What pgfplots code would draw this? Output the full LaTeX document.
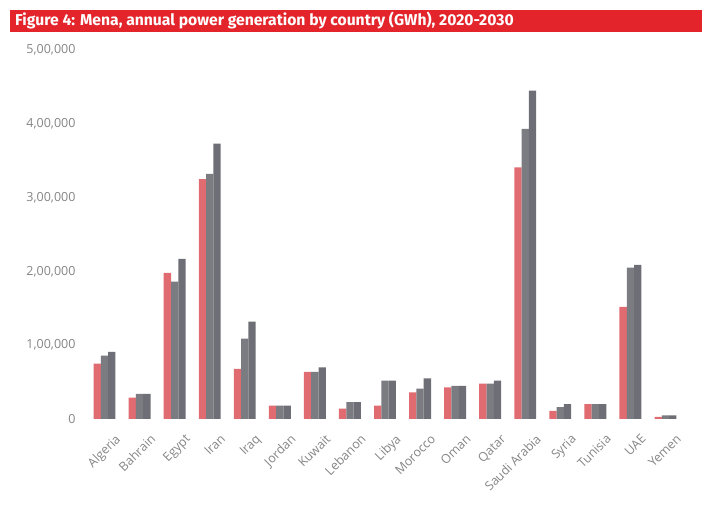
\documentclass[border=0pt]{standalone}
\usepackage{fontspec}
\setmainfont{Open Sans}
\newfontfamily\titlefont{Fira Sans}
\usepackage{pgfplots}
\pgfplotsset{compat=1.18}
\usepackage{pgfplotstable}

\definecolor{banner}{HTML}{E3242B}
\definecolor{r20}{HTML}{E06C72}
\definecolor{g25}{HTML}{7B7B82}
\definecolor{g30}{HTML}{6E6E76}
\definecolor{lbl}{HTML}{858585}

% x = category index, y in GWh
\pgfplotstableread{
x  a      b      c
0  75000  86000  91000
1  29000  34000  34000
2  198000 186000 217000
3  325000 332000 373000
4  68000  109000 132000
5  18000  18000  18000
6  64000  64000  70000
7  14000  23000  23000
8  18000  52000  52000
9  36000  41000  55000
10 43000  45000  45000
11 48000  48000  52000
12 341000 393000 445000
13 11000  16000  20000
14 20000  20000  20000
15 152000 205000 209000
16 3000   5000   5000
}\gen

\begin{document}
\begin{tikzpicture}
\useasboundingbox (0,0) rectangle (712bp,517bp);
\fill[banner] (10bp,485bp) rectangle (702bp,507bp);
\node[anchor=west, text=white, inner sep=0pt] at (15bp,496bp)
  {\titlefont\bfseries\fontsize{15.7bp}{16bp}\selectfont Figure 4: Mena, annual power generation by country (GWh), 2020-2030};
\begin{axis}[
    at={(80bp,98bp)}, anchor=south west,
    scale only axis, width=610bp, height=369bp,
    xmin=-0.7, xmax=16.7, ymin=0, ymax=500000,
    axis line style={draw=none},
    ybar, bar width=7.3bp,
    xtick={0,...,16},
    xticklabels={Algeria,Bahrain,Egypt,Iran,Iraq,Jordan,Kuwait,Lebanon,Libya,Morocco,Oman,Qatar,Saudi Arabia,Syria,Tunisia,UAE,Yemen},
    ytick={0,100000,200000,300000,400000,500000},
    yticklabels={0,{1,00,000},{2,00,000},{3,00,000},{4,00,000},{5,00,000}},
    scaled y ticks=false,
    tick style={draw=none},
    every tick label/.append style={font=\fontsize{12.5bp}{13bp}\selectfont, text=lbl},
    yticklabel style={xshift=-1bp},
    xticklabel style={rotate=45, anchor=north east, xshift=1bp, yshift=-13bp, inner sep=1bp},
    clip=false,
]
\addplot[draw=none, fill=r20, bar shift=-7.3bp] table[x=x, y=a] {\gen};
\addplot[draw=none, fill=g25, bar shift=0bp] table[x=x, y=b] {\gen};
\addplot[draw=none, fill=g30, bar shift=7.3bp] table[x=x, y=c] {\gen};
\end{axis}
\end{tikzpicture}
\end{document}
